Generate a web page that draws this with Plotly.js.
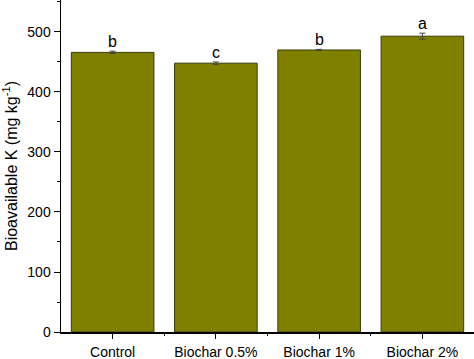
<!DOCTYPE html>
<html><head><meta charset="utf-8">
<script src="https://cdn.plot.ly/plotly-3.0.1.min.js"></script>
<style>html,body{margin:0;padding:0;background:#fff}#c{width:474px;height:359px}</style>
</head><body><div id="c"></div>
<script>
const categories = ["Control", "Biochar 0.5%", "Biochar 1%", "Biochar 2%"];
const values = [466, 448, 470, 493];
const errors = [2, 2, 1, 5];
const letters = ["b", "c", "b", "a"];

const trace = {
  type: "bar", x: categories, y: values, width: 0.8,
  marker: {color: "#808000", line: {color: "#3a3a10", width: 1}},
  error_y: {type: "data", array: errors, visible: true, color: "#444", thickness: 1, width: 3},
  hoverinfo: "none"
};
const annotations = categories.map((c, i) => ({
  x: c, y: values[i] + errors[i], text: letters[i], showarrow: false,
  yanchor: "bottom", yshift: -1, font: {family: "Liberation Sans, Arial", size: 16, color: "#000"}
}));
const layout = {
  width: 474, height: 359,
  margin: {l: 61, r: 0, t: 0, b: 27},
  paper_bgcolor: "#fff", plot_bgcolor: "#fff",
  showlegend: false,
  font: {family: "Liberation Sans, Arial", size: 14, color: "#000"},
  xaxis: {
    type: "category", range: [-0.5, 3.5], showline: true, linecolor: "#000", linewidth: 1.5,
    ticks: "outside", ticklen: 5, tickcolor: "#000", tickwidth: 1, showgrid: false, zeroline: false,
    tickfont: {size: 14}, ticklabelstandoff: 2
  },
  xaxis2: {
    overlaying: "x", range: [-0.5, 3.5], tickvals: [0.5, 1.5, 2.5], showticklabels: false,
    ticks: "outside", ticklen: 3, tickcolor: "#000", showgrid: false, zeroline: false, showline: false,
    anchor: "y", side: "bottom"
  },
  yaxis: {
    range: [0, 553.3], dtick: 100, showline: true, linecolor: "#000", linewidth: 1.5,
    ticks: "outside", ticklen: 6, tickcolor: "#000", tickwidth: 1, showgrid: false, zeroline: false,
    minor: {dtick: 50, ticks: "outside", ticklen: 3, tickcolor: "#000", showgrid: false},
    tickfont: {size: 14},
    title: {text: "Bioavailable K (mg kg<sup>-1</sup>)", font: {size: 16}, standoff: 6}
  },
  annotations: annotations
};
const dummy = {type: "scatter", x: [0], y: [0], xaxis: "x2", mode: "none", hoverinfo: "none"};
Plotly.newPlot("c", [trace, dummy], layout, {displayModeBar: false, staticPlot: true});
</script></body></html>
